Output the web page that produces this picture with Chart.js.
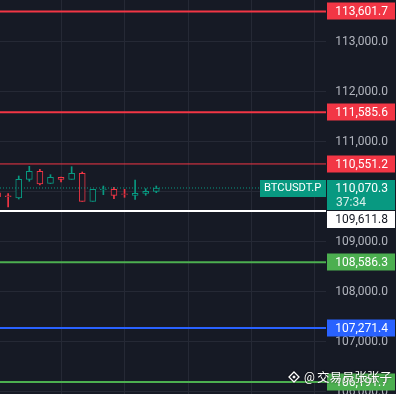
<!DOCTYPE html>
<html>
<head>
<meta charset="utf-8">
<script src="https://cdn.jsdelivr.net/npm/chart.js@4.4.1/dist/chart.umd.min.js"></script>
<style>
  html,body{margin:0;padding:0;background:#161a25;overflow:hidden}
  #wrap{width:396px;height:394px}
</style>
</head>
<body>
<div id="wrap"><canvas id="chart" width="396" height="394"></canvas></div>
<script>
// candle data (oldest first)
const bars   = [0,1,2,3,4,5,6,7,8,9,10,11,12,13,14,15];
const opens  = [109975,109915,109870,110244,110404,110164,110284,110244,110364,109804,110030,110044,109955,109924,109964,110004];
const highs  = [109990,109956,110310,110504,110444,110336,110290,110496,110390,110044,110110,110084,110044,110230,110056,110110];
const lows   = [109870,109690,109850,110204,110130,110160,110190,110244,109804,109804,109936,109856,109884,109844,109924,109976];
const closes = [109895,109895,110244,110404,110150,110284,110244,110364,109804,110044,110050,109924,109940,109964,110004,110070.3];

const priceTicks = [106000,107000,108000,109000,110000,111000,112000,113000];
const timeTicks  = [3,9,15,21,27];

const levels      = [113601.7,111585.6,110551.2,109611.8,108586.3,107271.4,106191.7];
const levelColors = ["#f23645","#f23645","#f23645","#ffffff","#4caf50","#2962ff","#4caf50"];
const levelWidths = [2,2,1,2,2,2,2];

const lastPrice = 110070.3;
const countdown = "37:34";
const symbol    = "BTCUSDT.P";

const BG="#161a25", UP="#089981", DOWN="#f23645", GRID="#252935";
const X_MIN=0.23, X_MAX=31.04, Y_MIN=105950, Y_MAX=113830;

const fmt = v => v.toLocaleString("en-US",{minimumFractionDigits:1,maximumFractionDigits:1});
const candleColor = c => closes[c.dataIndex] >= opens[c.dataIndex] ? UP : DOWN;

const lineSets = levels.map((lv,i)=>({
  type:"line", order:0,
  data:[{x:X_MIN,y:lv},{x:X_MAX,y:lv}],
  borderColor:levelColors[i], borderWidth:levelWidths[i], pointRadius:0
}));
lineSets.push({
  type:"line", order:0,
  data:[{x:X_MIN,y:lastPrice},{x:X_MAX,y:lastPrice}],
  borderColor:UP, borderWidth:1, borderDash:[1,2], pointRadius:0
});

const bgPlugin = {
  id:"bg",
  beforeDraw(chart){
    const ctx=chart.ctx;
    ctx.save(); ctx.fillStyle=BG; ctx.fillRect(0,0,chart.width,chart.height); ctx.restore();
  }
};

function box(ctx,x,y,w,h,color){ ctx.fillStyle=color; ctx.fillRect(x,y,w,h); }

const labelPlugin = {
  id:"labels",
  afterDraw(chart){
    const ctx=chart.ctx, ys=chart.scales.y;
    const cy0=Math.round(ys.getPixelForValue(lastPrice));
    const curTop=cy0-8, curBot=cy0+22;
    ctx.save();
    ctx.font="12px Roboto";
    ctx.textBaseline="middle";
    levels.forEach((lv,i)=>{
      const py=Math.round(ys.getPixelForValue(lv));
      let top=py-8.5;
      // push label out from under the last-price tag
      if (top < curBot && top+17 > curTop) top = py>cy0 ? curBot+1 : curTop-18;
      box(ctx,327,top,68,17,levelColors[i]);
      ctx.fillStyle = levelColors[i]=="#ffffff" ? "#131722" : "#ffffff";
      ctx.textAlign="right";
      ctx.fillText(fmt(lv),388,top+9);
    });
    // current price + countdown
    box(ctx,327,curTop,68,30,UP);
    ctx.fillStyle="#ffffff"; ctx.textAlign="right";
    ctx.fillText(fmt(lastPrice),388,cy0+0.5);
    ctx.fillStyle="#d8f0ea"; ctx.textAlign="left";
    ctx.fillText(countdown,336,cy0+14.5);
    // symbol tag
    box(ctx,260,curTop,66,17,UP);
    ctx.fillStyle="#ffffff"; ctx.textAlign="left";
    ctx.font="11.2px Roboto";
    ctx.fillText(symbol,264,cy0+0.5);
    // watermark
    ctx.shadowColor="rgba(0,0,0,0.8)"; ctx.shadowBlur=2;
    ctx.strokeStyle="#ffffff"; ctx.lineWidth=1.3;
    const cx=294, cy=377;
    ctx.beginPath(); ctx.moveTo(cx,cy-5); ctx.lineTo(cx+5,cy); ctx.lineTo(cx,cy+5); ctx.lineTo(cx-5,cy); ctx.closePath(); ctx.stroke();
    ctx.fillStyle="#ffffff";
    ctx.beginPath(); ctx.moveTo(cx,cy-1.8); ctx.lineTo(cx+1.8,cy); ctx.lineTo(cx,cy+1.8); ctx.lineTo(cx-1.8,cy); ctx.closePath(); ctx.fill();
    ctx.font="12px Roboto"; ctx.textAlign="left";
    ctx.fillText("@",304,cy+0.5);
    ctx.font="12.5px 'Noto Sans CJK SC'";
    ctx.fillText("交易员张张子",317,cy+0.5);
    ctx.restore();
  }
};

new Chart(document.getElementById("chart").getContext("2d"), {
  type:"bar",
  data:{
    datasets:[
      {label:"wick", order:2, grouped:false, barThickness:1,
       data:bars.map(i=>({x:i,y:[lows[i],highs[i]]})),
       backgroundColor:candleColor, borderWidth:0},
      {label:"body", order:1, grouped:false, barThickness:6,
       data:bars.map(i=>({x:i,y:[opens[i],closes[i]]})),
       backgroundColor:BG, borderColor:candleColor, borderWidth:1, borderSkipped:false},
      ...lineSets
    ]
  },
  options:{
    responsive:false, animation:false,
    layout:{padding:{left:0,right:8,top:0,bottom:0}},
    plugins:{legend:{display:false},tooltip:{enabled:false}},
    scales:{
      x:{type:"linear",min:X_MIN,max:X_MAX,offset:false,bounds:"data",
         grid:{color:GRID,drawTicks:false},border:{display:false},
         ticks:{display:false},
         afterBuildTicks:s=>{s.ticks=timeTicks.map(v=>({value:v}));},
         afterFit:s=>{s.height=0;s.paddingLeft=0;s.paddingRight=0;}},
      y:{type:"linear",position:"right",min:Y_MIN,max:Y_MAX,bounds:"data",
         grid:{color:GRID,drawTicks:false},border:{display:false},
         ticks:{color:"#b2b5be",font:{family:"Roboto",size:12},crossAlign:"far",padding:0,
                callback:v=>fmt(v)},
         afterBuildTicks:s=>{s.ticks=priceTicks.map(v=>({value:v}));},
         afterFit:s=>{s.width=62;s.paddingTop=0;s.paddingBottom=0;}}
    }
  },
  plugins:[bgPlugin,labelPlugin]
});
</script>
</body>
</html>
